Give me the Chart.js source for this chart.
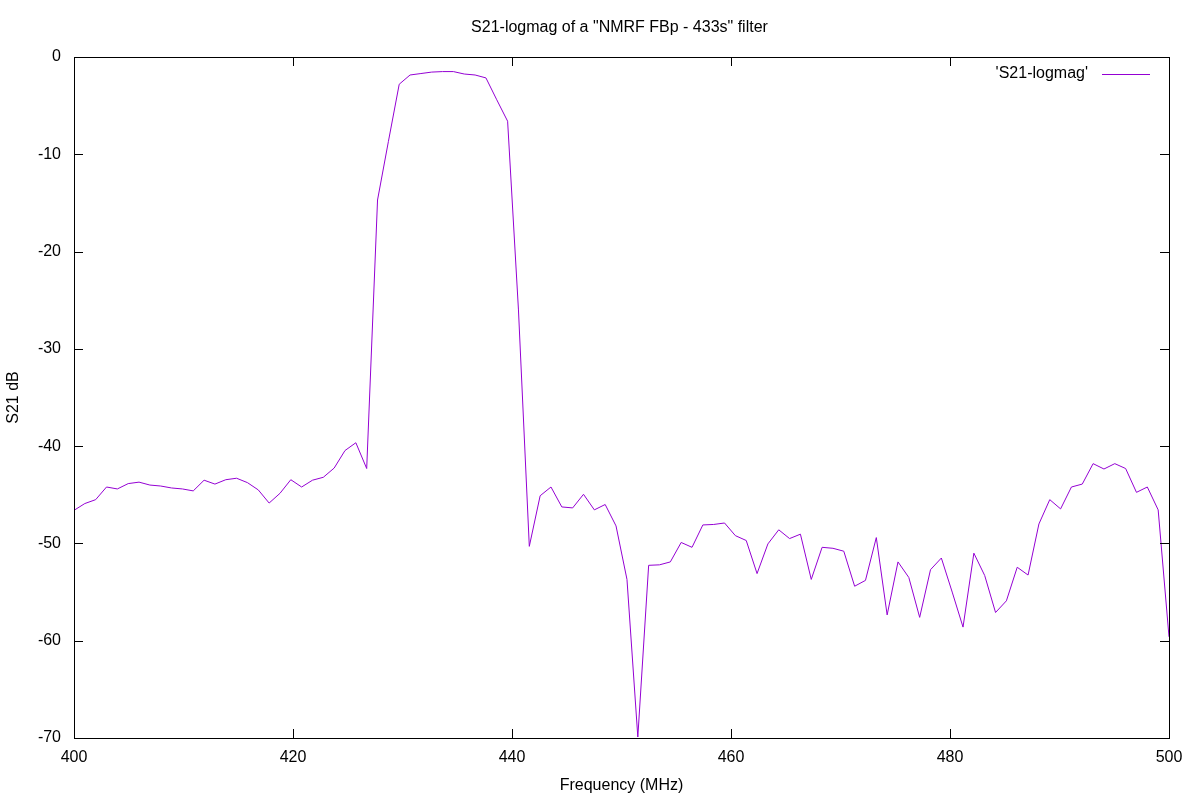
<!DOCTYPE html>
<html>
<head>
<meta charset="utf-8">
<script src="https://cdn.jsdelivr.net/npm/chart.js@4.4.1/dist/chart.umd.min.js"></script>
<style>
  html, body { margin: 0; padding: 0; background: #fff; }
  #wrap { width: 1200px; height: 800px; }
</style>
</head>
<body>
<div id="wrap"><canvas id="c" width="1200" height="800"></canvas></div>
<script>
const chartTitle = 'S21-logmag of a "NMRF FBp - 433s" filter';
const seriesLabel = "'S21-logmag'";
const xAxisTitle = 'Frequency (MHz)';
const yAxisTitle = 'S21 dB';

const freqMHz = [
  400.00, 400.99, 401.98, 402.97, 403.96, 404.95, 405.94, 406.93, 407.92, 408.91,
  409.90, 410.89, 411.88, 412.87, 413.86, 414.85, 415.84, 416.83, 417.82, 418.81,
  419.80, 420.79, 421.78, 422.77, 423.76, 424.75, 425.74, 426.73, 427.72, 428.71,
  429.70, 430.69, 431.68, 432.67, 433.66, 434.65, 435.64, 436.63, 437.62, 438.61,
  439.60, 440.59, 441.58, 442.57, 443.56, 444.55, 445.54, 446.53, 447.52, 448.51,
  449.50, 450.50, 451.49, 452.48, 453.47, 454.46, 455.45, 456.44, 457.43, 458.42,
  459.41, 460.40, 461.39, 462.38, 463.37, 464.36, 465.35, 466.34, 467.33, 468.32,
  469.31, 470.30, 471.29, 472.28, 473.27, 474.26, 475.25, 476.24, 477.23, 478.22,
  479.21, 480.20, 481.19, 482.18, 483.17, 484.16, 485.15, 486.14, 487.13, 488.12,
  489.11, 490.10, 491.09, 492.08, 493.07, 494.06, 495.05, 496.04, 497.03, 498.02,
  499.01, 500.00
];

const s21dB = [
  -46.6, -45.9, -45.5, -44.2, -44.4, -43.85, -43.7, -44.0, -44.1, -44.3,
  -44.4, -44.6, -43.5, -43.9, -43.45, -43.3, -43.75, -44.5, -45.85, -44.85,
  -43.45, -44.2, -43.5, -43.2, -42.25, -40.45, -39.65, -42.3, -14.7, -8.7,
  -2.8, -1.85, -1.7, -1.55, -1.5, -1.5, -1.75, -1.85, -2.15, -4.4,
  -6.6, -26.0, -50.3, -45.1, -44.2, -46.25, -46.35, -44.95, -46.55, -46.0,
  -48.2, -53.7, -69.9, -52.25, -52.2, -51.9, -49.9, -50.4, -48.1, -48.05,
  -47.9, -49.2, -49.7, -53.1, -50.05, -48.6, -49.5, -49.05, -53.7, -50.4,
  -50.5, -50.8, -54.4, -53.8, -49.4, -57.35, -51.9, -53.5, -57.6, -52.7,
  -51.5, -55.0, -58.6, -51.0, -53.3, -57.1, -55.9, -52.45, -53.25, -48.0,
  -45.5, -46.45, -44.2, -43.9, -41.8, -42.35, -41.8, -42.3, -44.75, -44.2,
  -46.55, -59.6
];

const xTickValues = [400, 420, 440, 460, 480, 500];
const yTickValues = [0, -10, -20, -30, -40, -50, -60, -70];

const lineColor = '#9400d3';
const fontFamily = "'Liberation Sans', Arial, sans-serif";

Chart.defaults.font.family = fontFamily;
Chart.defaults.font.size = 16;
Chart.defaults.color = '#000';

const points = freqMHz.map((f, i) => ({ x: f, y: s21dB[i] }));

const framePlugin = {
  id: 'frame',
  afterDatasetsDraw(chart) {
    const { ctx, chartArea: a, scales } = chart;
    const tick = 9;
    ctx.save();
    ctx.strokeStyle = '#000';
    ctx.lineWidth = 1;
    ctx.beginPath();
    xTickValues.forEach(v => {
      const px = Math.round(scales.x.getPixelForValue(v)) + 0.5;
      ctx.moveTo(px, a.bottom); ctx.lineTo(px, a.bottom - tick);
      ctx.moveTo(px, a.top); ctx.lineTo(px, a.top + tick);
    });
    yTickValues.forEach(v => {
      const py = Math.round(scales.y.getPixelForValue(v)) + 0.5;
      ctx.moveTo(a.left, py); ctx.lineTo(a.left + tick, py);
      ctx.moveTo(a.right, py); ctx.lineTo(a.right - tick, py);
    });
    ctx.stroke();
    ctx.strokeRect(Math.round(a.left) + 0.5, Math.round(a.top) + 0.5,
                   Math.round(a.right - a.left), Math.round(a.bottom - a.top));
    // title
    ctx.fillStyle = '#000';
    ctx.font = '16px ' + fontFamily;
    ctx.textAlign = 'center';
    ctx.textBaseline = 'middle';
    ctx.fillText(chartTitle, (a.left + a.right) / 2 - 2, 28);
    // legend
    const ds = chart.data.datasets[0];
    ctx.textAlign = 'right';
    ctx.fillText(ds.label, a.right - 81, a.top + 17);
    ctx.strokeStyle = ds.borderColor;
    ctx.beginPath();
    ctx.moveTo(a.right - 67, a.top + 17.5);
    ctx.lineTo(a.right - 19, a.top + 17.5);
    ctx.stroke();
    ctx.restore();
  }
};

new Chart(document.getElementById('c'), {
  type: 'line',
  data: {
    datasets: [{
      label: seriesLabel,
      data: points,
      borderColor: lineColor,
      backgroundColor: lineColor,
      borderWidth: 1,
      pointRadius: 0,
      tension: 0,
      fill: false
    }]
  },
  options: {
    responsive: false,
    animation: false,
    devicePixelRatio: 1,
    layout: { padding: { left: 0, right: 31, top: 57, bottom: 0 } },
    plugins: {
      legend: { display: false },
      title: { display: false },
      tooltip: { enabled: false }
    },
    scales: {
      x: {
        type: 'linear',
        min: 400, max: 500,
        afterFit(s) { s.height = 62; },
        afterBuildTicks(s) { s.ticks = xTickValues.map(v => ({ value: v })); },
        grid: { display: false, drawTicks: false },
        border: { display: false },
        ticks: { padding: 10, maxRotation: 0, autoSkip: false },
        title: { display: true, text: xAxisTitle, padding: { top: 0, bottom: 5 } }
      },
      y: {
        type: 'linear',
        min: -70, max: 0,
        afterFit(s) { s.width = 74; },
        afterBuildTicks(s) { s.ticks = yTickValues.map(v => ({ value: v })); },
        grid: { display: false, drawTicks: false },
        border: { display: false },
        ticks: { padding: 13, autoSkip: false },
        title: { display: true, text: yAxisTitle, padding: { top: 4, bottom: 0 } }
      }
    }
  },
  plugins: [framePlugin]
});
</script>
</body>
</html>
